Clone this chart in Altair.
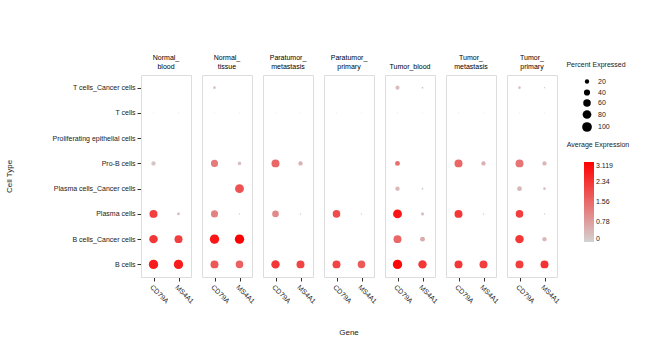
import altair as alt
import pandas as pd

tissues = ["Normal_blood", "Normal_tissue", "Paratumor_metastasis", "Paratumor_primary",
           "Tumor_blood", "Tumor_metastasis", "Tumor_primary"]
cell_types = ["T cells_Cancer cells", "T cells", "Proliferating epithelial cells", "Pro-B cells",
              "Plasma cells_Cancer cells", "Plasma cells", "B cells_Cancer cells", "B cells"]
genes = ["CD79A", "MS4A1"]

# percent expressed, per tissue, per gene, rows in cell_types order
pct_cd79a = {
    "Normal_blood":         [0, 1, 0, 20, 0, 67, 75, 91],
    "Normal_tissue":        [7, 1, 0, 53, 0, 53, 91, 67],
    "Paratumor_metastasis": [0, 1, 0, 67, 0, 46, 0, 75],
    "Paratumor_primary":    [0, 1, 0, 0, 0, 60, 0, 67],
    "Tumor_blood":          [17, 1, 0, 25, 20, 83, 67, 91],
    "Tumor_metastasis":     [0, 1, 0, 67, 0, 67, 0, 67],
    "Tumor_primary":        [7, 1, 0, 67, 25, 60, 75, 67],
}
pct_ms4a1 = {
    "Normal_blood":         [0, 1, 0, 0, 0, 9, 67, 91],
    "Normal_tissue":        [0, 1, 0, 13, 83, 2, 91, 60],
    "Paratumor_metastasis": [0, 1, 0, 20, 0, 2, 0, 67],
    "Paratumor_primary":    [0, 1, 0, 0, 0, 2, 0, 60],
    "Tumor_blood":          [3, 1, 0, 0, 3, 10, 25, 75],
    "Tumor_metastasis":     [0, 1, 0, 20, 0, 2, 0, 67],
    "Tumor_primary":        [2, 1, 0, 20, 7, 2, 20, 67],
}
# average expression
exp_cd79a = {
    "Normal_blood":         [0, 0.1, 0, 0.2, 0, 2.2, 2.3, 2.7],
    "Normal_tissue":        [0.3, 0.1, 0, 1.3, 0, 1.2, 2.8, 1.8],
    "Paratumor_metastasis": [0, 0.1, 0, 1.6, 0, 1.1, 0, 2.3],
    "Paratumor_primary":    [0, 0.1, 0, 0, 0, 2.0, 0, 2.1],
    "Tumor_blood":          [0.3, 0.1, 0, 1.5, 0.4, 2.8, 1.6, 3.0],
    "Tumor_metastasis":     [0, 0.1, 0, 1.6, 0, 2.3, 0, 2.3],
    "Tumor_primary":        [0.3, 0.1, 0, 1.4, 0.4, 2.2, 2.3, 2.2],
}
exp_ms4a1 = {
    "Normal_blood":         [0, 0.1, 0, 0, 0, 0.3, 2.2, 2.7],
    "Normal_tissue":        [0, 0.1, 0, 0.3, 1.9, 0.2, 3.119, 1.7],
    "Paratumor_metastasis": [0, 0.1, 0, 0.5, 0, 0.2, 0, 2.1],
    "Paratumor_primary":    [0, 0.1, 0, 0, 0, 0.2, 0, 1.8],
    "Tumor_blood":          [0.2, 0.1, 0, 0, 0.2, 0.3, 0.6, 2.3],
    "Tumor_metastasis":     [0, 0.1, 0, 0.5, 0, 0.2, 0, 2.2],
    "Tumor_primary":        [0.2, 0.1, 0, 0.4, 0.3, 0.2, 0.4, 2.4],
}

size_legend_values = [20, 40, 60, 80, 100]
color_legend_values = [0, 0.78, 1.56, 2.34, 3.119]

rows = []
for t in tissues:
    for i, c in enumerate(cell_types):
        for g, p, e in (("CD79A", pct_cd79a, exp_cd79a), ("MS4A1", pct_ms4a1, exp_ms4a1)):
            if p[t][i] > 0:
                rows.append({"Tissue": t, "Cell Type": c, "Gene": g,
                             "pct": p[t][i], "avg": e[t][i]})
df = pd.DataFrame(rows)

FONT = "Liberation Sans"
TXT = "#222"

base = alt.Chart(df).mark_circle(opacity=1).encode(
    x=alt.X("Gene:N", sort=genes, scale=alt.Scale(type="point", padding=0.5, domain=genes),
            axis=alt.Axis(title=None, labelAngle=45, labelAlign="left", labelBaseline="top",
                          labelFontSize=7, tickSize=4, domain=False, tickColor="#333",
                          labelColor=TXT, labelPadding=2)),
    y=alt.Y("Cell Type:N", sort=cell_types, scale=alt.Scale(type="point", padding=0.5, domain=cell_types),
            axis=alt.Axis(title="Cell Type", labelFontSize=7, tickSize=4, domain=False,
                          tickColor="#333", labelColor=TXT, titleFontSize=8,
                          titleFontWeight="normal", titlePadding=39, titleColor=TXT)),
    size=alt.Size("pct:Q", title="Percent Expressed",
                  scale=alt.Scale(domain=[0, 100], range=[0, 95], zero=True),
                  legend=alt.Legend(values=size_legend_values, symbolFillColor="black",
                                    symbolStrokeColor="black", symbolStrokeWidth=0,
                                    titleFontSize=7, labelFontSize=7, titleFontWeight="normal",
                                    rowPadding=3, titleColor=TXT, labelColor=TXT,
                                    titleAnchor="middle", labelOffset=6,
                                    orient="none", legendX=425, legendY=-14, titlePadding=10)),
    color=alt.Color("avg:Q", title="Average Expression",
                    scale=alt.Scale(domain=[0, 3.119], range=["#d3d3d3", "#ff0000"], interpolate="rgb"),
                    legend=alt.Legend(values=color_legend_values, gradientLength=80,
                                      gradientThickness=10, titleFontSize=7, labelFontSize=7,
                                      titleFontWeight="normal", titleColor=TXT,
                                      labelColor=TXT, gradientStrokeColor="#555",
                                      titlePadding=14, labelOverlap=False,
                                      titleAnchor="middle",
                                      labelExpr="'' + datum.value",
                                      orient="none", legendX=426, legendY=66)),
).properties(width=50, height=202)

chart = base.facet(
    column=alt.Column("Tissue:N", sort=tissues,
                      header=alt.Header(title="Gene", titleOrient="bottom", labelOrient="top",
                                        labelFontSize=7, titleFontSize=8, titleFontWeight="normal",
                                        titlePadding=14, labelColor="#000", titleColor=TXT,
                                        labelExpr="datum.value == 'Tumor_blood' ? datum.value : split(replace(datum.value, '_', '_|'), '|')",
                                        labelPadding=5)),
    spacing=11,
    bounds="flush",
).configure_view(
    stroke="#444", strokeWidth=1
).configure(
    font=FONT
).properties(
    padding={"left": 5, "top": 54, "right": 5, "bottom": 5}
)

chart.save("out.html", embed_options={"renderer": "svg", "actions": False})
